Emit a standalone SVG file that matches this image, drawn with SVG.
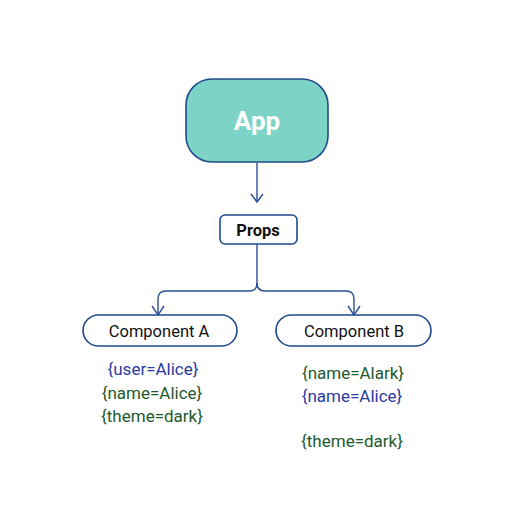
<svg xmlns="http://www.w3.org/2000/svg" width="512" height="512" viewBox="0 0 512 512">
<style>
.box{stroke:#1f4a8c;stroke-width:1.6;fill:#fff}
.lbl{font-family:Roboto,"Liberation Sans",sans-serif;text-anchor:middle;fill:#111}
.conn{fill:none;stroke:#2a4f96;stroke-width:1.4}
.prop{font-family:Roboto,"Liberation Sans",sans-serif;font-size:17px;text-anchor:middle}
.blue{fill:#2a3aa0}
.green{fill:#1d5a2c}
</style>
<rect width="512" height="512" fill="#fff"/>
<g id="connectors">
<path class="conn" d="M257 163 V202"/>
<path class="conn" d="M251 194 L257 202 L263 194"/>
<path class="conn" d="M257 244 V283 Q257 291 249 291 H166 Q158 291 158 299 V315"/>
<path class="conn" d="M257 283 Q257 291 265 291 H346 Q354 291 354 299 V315"/>
<path class="conn" d="M152 306 L158 315 L164 306"/>
<path class="conn" d="M348 306 L354 315 L360 306"/>
</g>
<g id="app">
<rect x="186" y="79" width="142" height="83" rx="26" fill="#7dd3c5" stroke="#1f4a8c" stroke-width="1.6"/>
<text x="257" y="130" class="lbl" font-size="26" font-weight="bold" style="fill:#fff">App</text>
</g>
<g id="props">
<rect class="box" x="220" y="215" width="77" height="29" rx="5"/>
<text x="258" y="235.5" class="lbl" font-size="16.5" font-weight="bold">Props</text>
</g>
<g id="componentA">
<rect class="box" x="83" y="315" width="154" height="31" rx="15.5"/>
<text x="159" y="336.5" class="lbl" font-size="16.5">Component A</text>
</g>
<g id="componentB">
<rect class="box" x="276" y="315" width="155" height="31" rx="15.5"/>
<text x="354" y="336.5" class="lbl" font-size="16.5">Component B</text>
</g>
<g id="propsA">
<text x="153" y="375" class="prop blue">{user=Alice}</text>
<text x="152" y="399" class="prop green">{name=Alice}</text>
<text x="152" y="422" class="prop green">{theme=dark}</text>
</g>
<g id="propsB">
<text x="353" y="379" class="prop green">{name=Alark}</text>
<text x="352" y="402" class="prop blue">{name=Alice}</text>
<text x="352" y="447" class="prop green">{theme=dark}</text>
</g>
</svg>
